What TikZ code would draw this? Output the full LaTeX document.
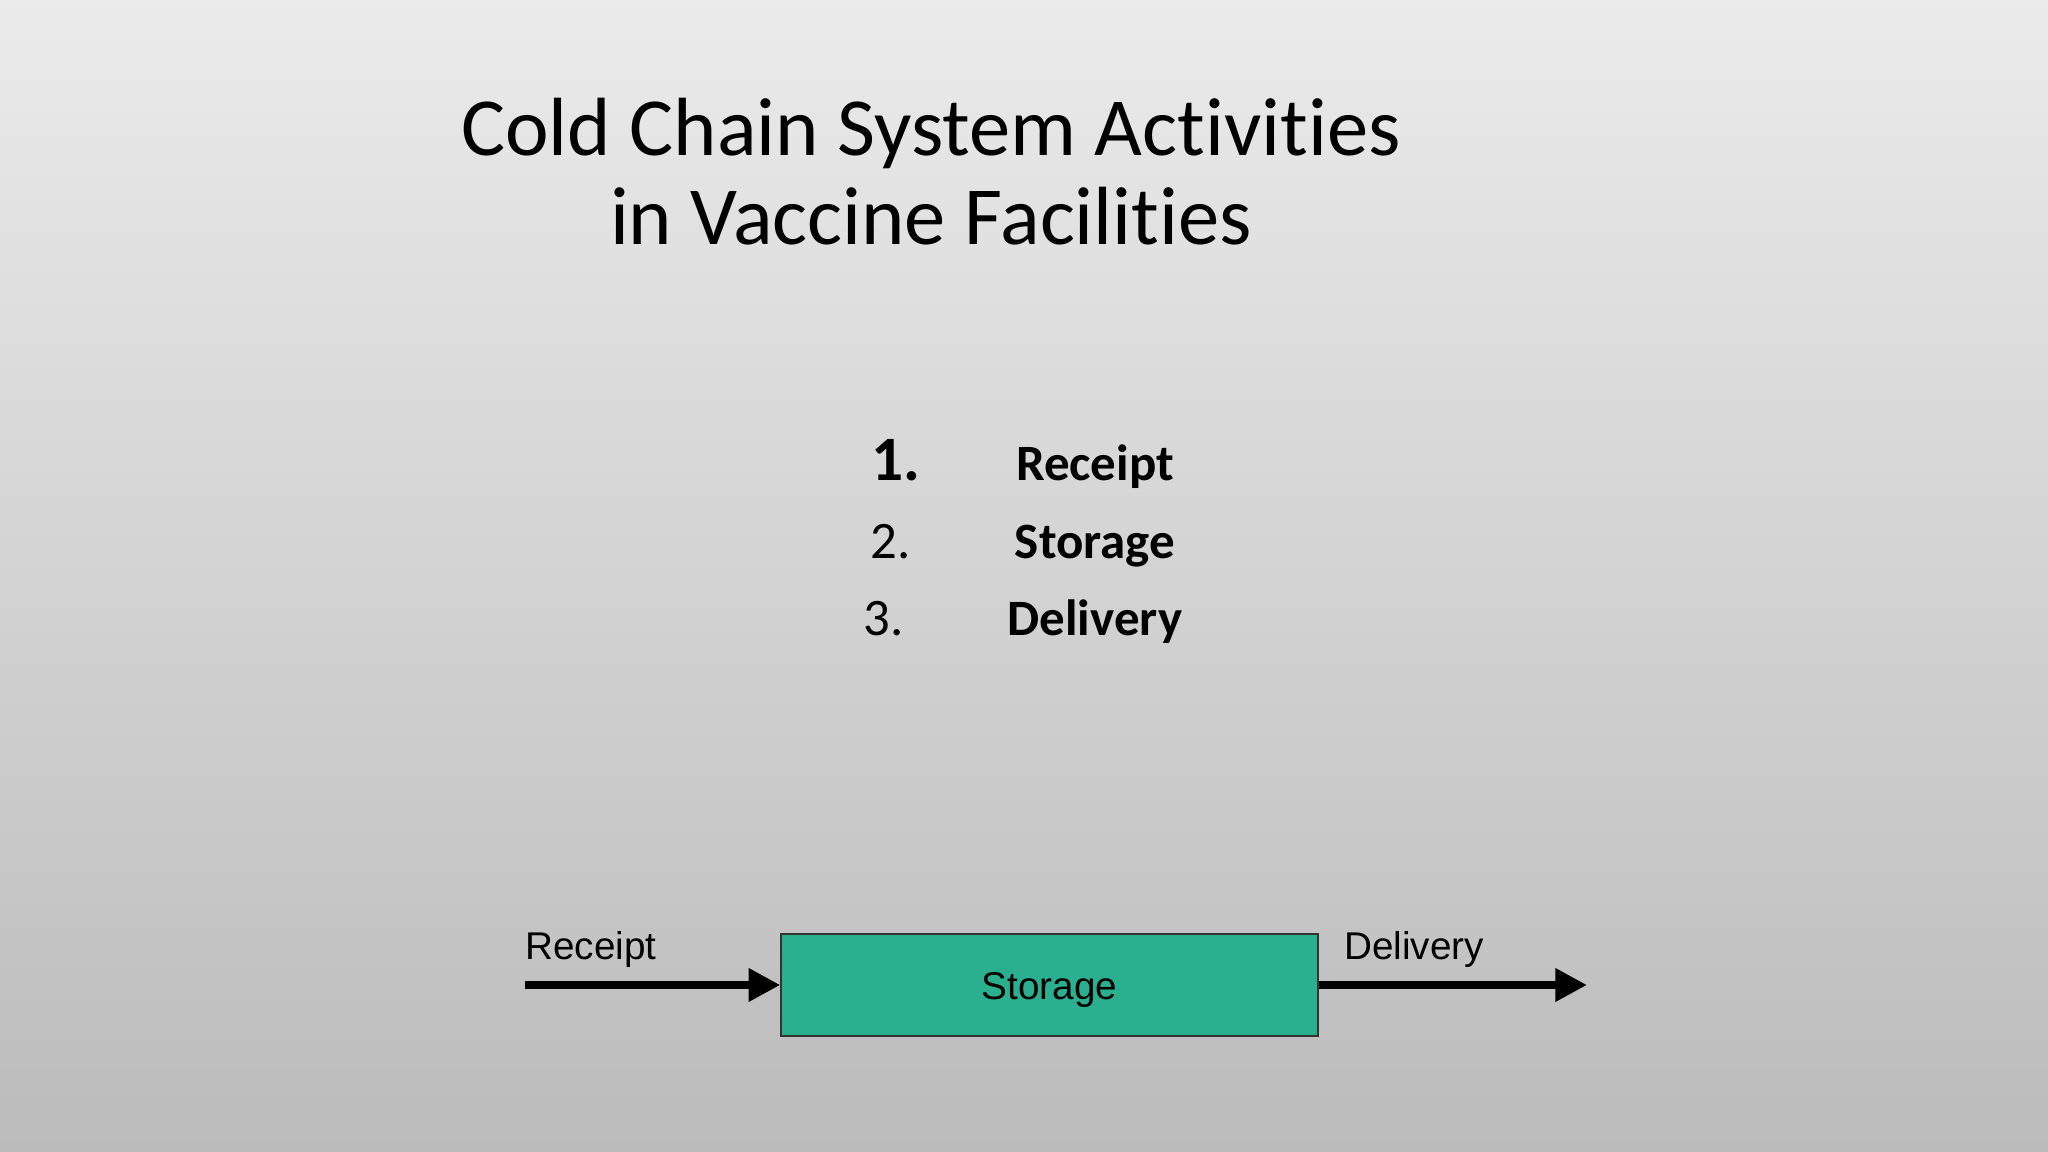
\documentclass[tikz,border=0pt]{standalone}
\usepackage{fontspec}
\setmainfont[RawFeature=-liga]{Carlito}
\newfontfamily\arialf{Liberation Sans}
\usetikzlibrary{arrows.meta}
\definecolor{bgtop}{HTML}{EBEBEB}
\definecolor{bgmid}{HTML}{E2E2E2}
\definecolor{bgbot}{HTML}{BBBBBB}
\definecolor{teal}{HTML}{2BB08F}
\tikzset{
  listnum/.style={font=\fontsize{15}{18}\selectfont, anchor=base},
  listitem/.style={font=\fontsize{14.5}{18}\selectfont\bfseries, anchor=base},
  flow/.style={line width=2.2pt, -{Triangle[length=9pt,width=9pt]}},
  lbl/.style={font=\arialf\fontsize{11}{13}\selectfont, anchor=base west}
}
\begin{document}
\begin{tikzpicture}
\shade[top color=bgtop, middle color=bgmid, bottom color=bgbot] (0,0) rectangle (20.48,11.52);
\useasboundingbox (0,0) rectangle (20.48,11.52);
\node[font=\fontsize{23.5}{25.3}\selectfont, align=center] (title) at (9.31,9.8) {Cold Chain System Activities\\in Vaccine Facilities};
\node[listnum, font=\fontsize{18}{20}\selectfont\bfseries] (n1) at (8.96,6.71) {1.};
\node[listitem] (i1) at (10.95,6.71) {Receipt};
\node[listnum] (n2) at (8.91,5.93) {2.};
\node[listitem] (i2) at (10.95,5.93) {Storage};
\node[listnum] (n3) at (8.84,5.16) {3.};
\node[listitem] (i3) at (10.95,5.16) {Delivery};
\node[draw=black!80, thin, fill=teal, minimum width=5.37cm, minimum height=1.02cm] (box) at (10.495,1.67) {};
\node[font=\arialf\fontsize{11}{13}\selectfont] (boxlbl) at (10.495,1.62) {Storage};
\coordinate (s) at (5.25,1.67);
\coordinate (e) at (15.87,1.67);
\draw[flow] (s) -- (box.west);
\draw[flow] (box.east) -- (e);
\node[lbl] (rl) at (5.13,1.92) {Receipt};
\node[lbl] (dl) at (13.32,1.92) {Delivery};
\end{tikzpicture}
\end{document}
